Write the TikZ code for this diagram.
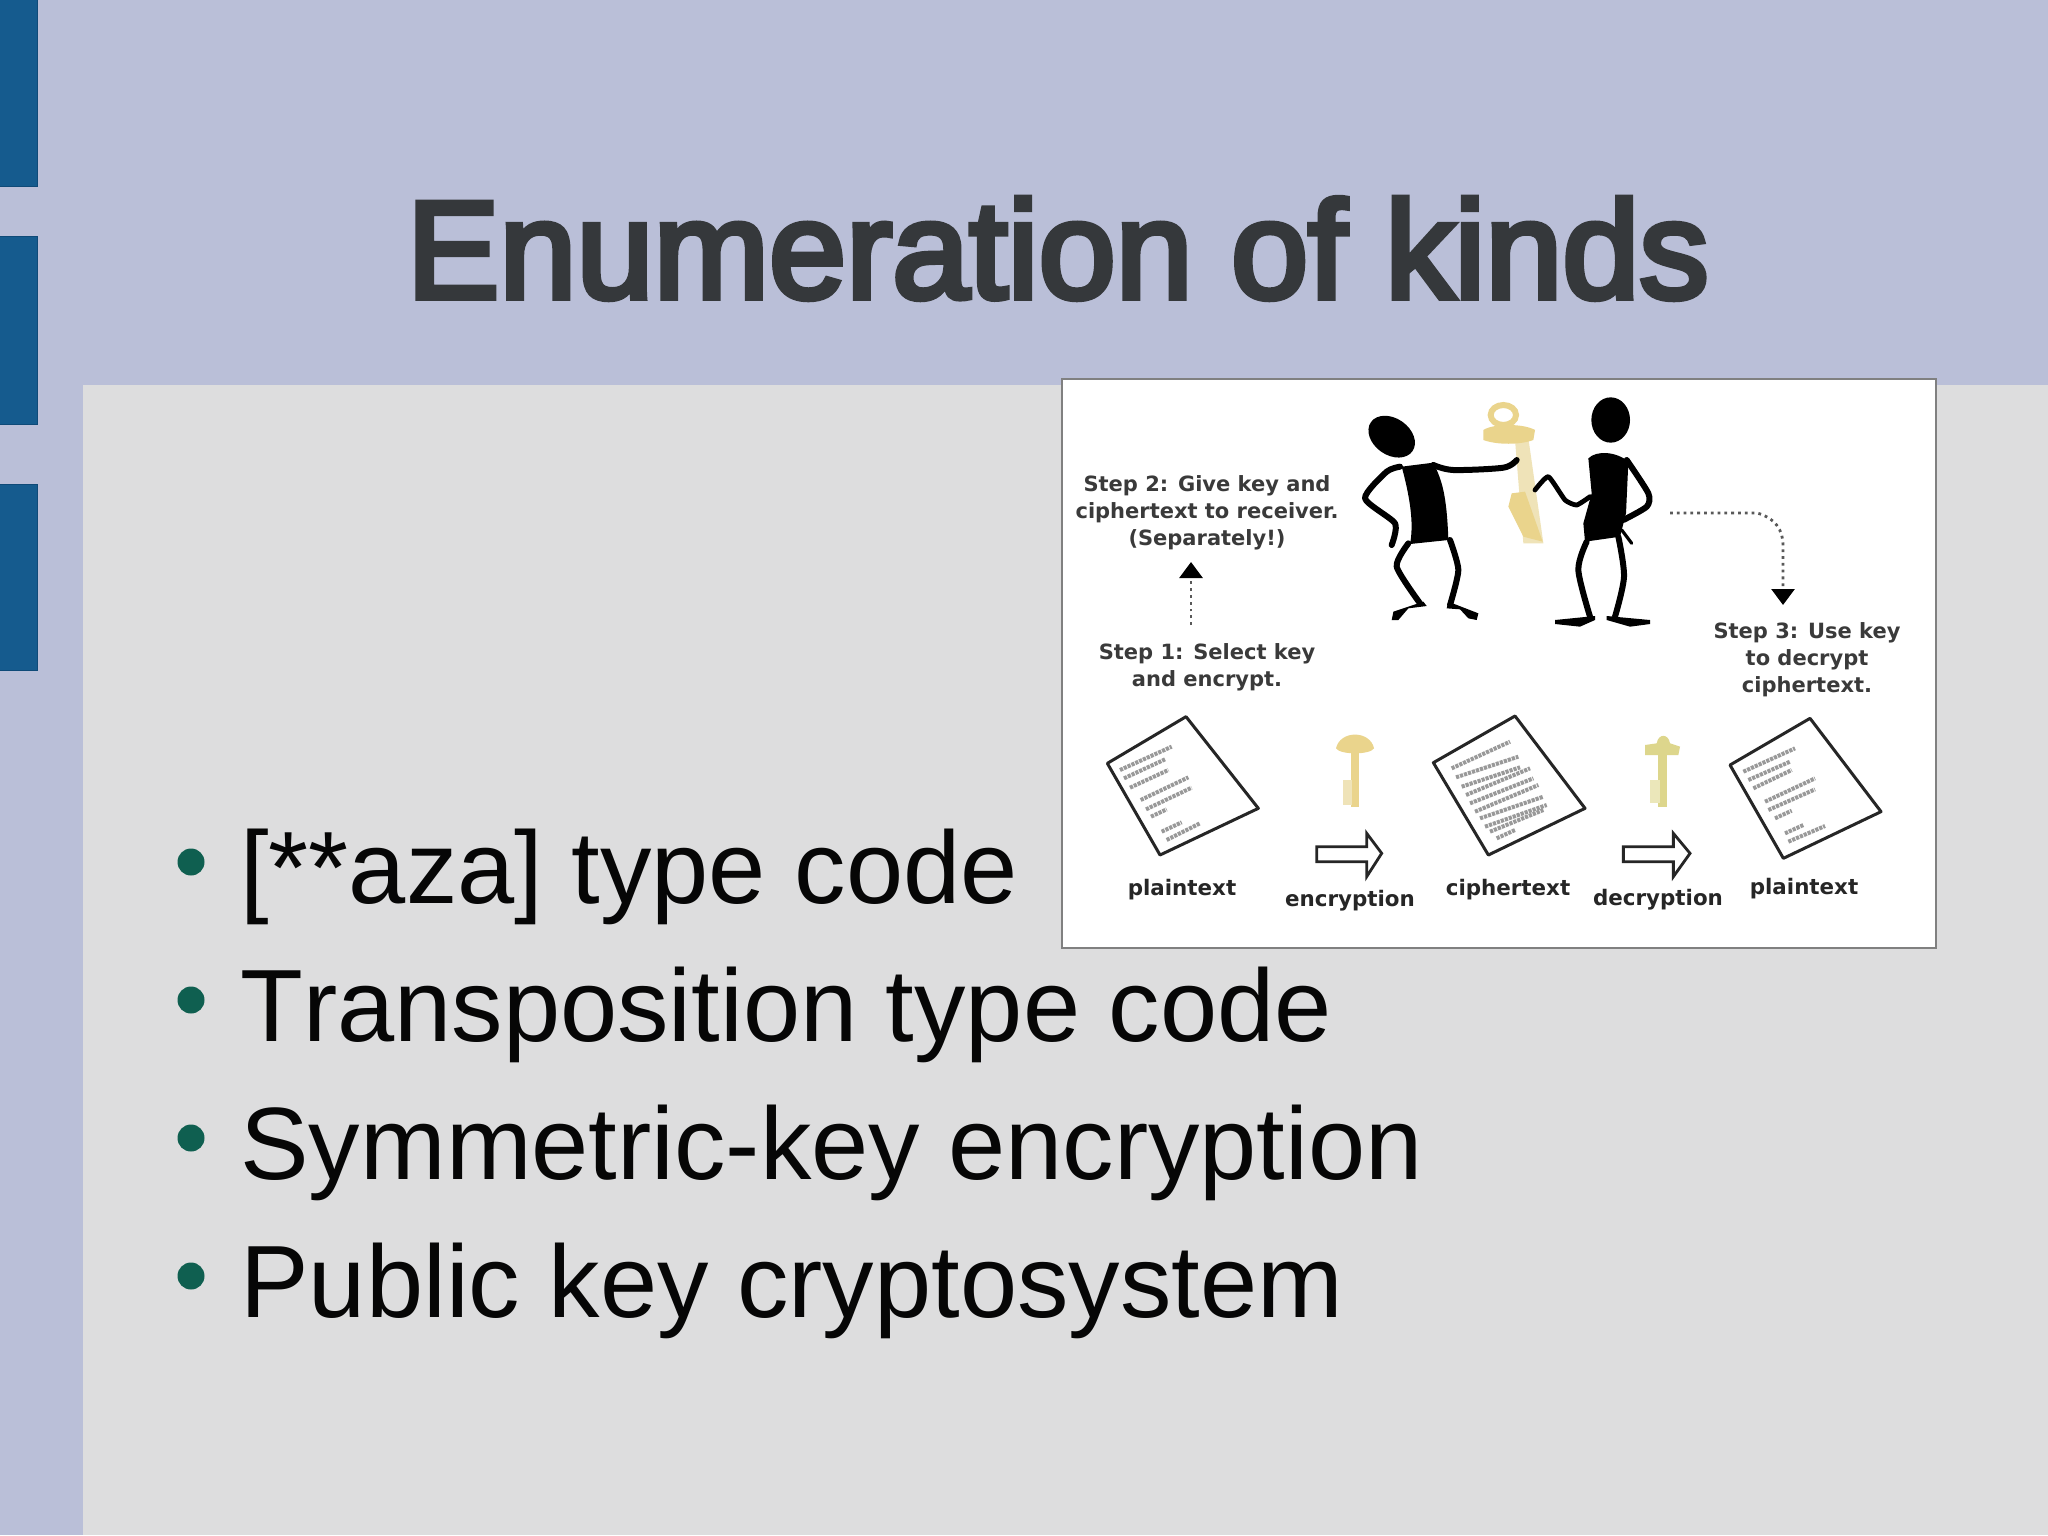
\documentclass[tikz,border=0pt]{standalone}
\usepackage{fontspec}
\setmainfont{Liberation Sans}
\newfontfamily\figfont{DejaVu Sans}
\newfontfamily\titlefont[FakeBold=4.2]{Liberation Sans}
\usetikzlibrary{arrows.meta}
\definecolor{bgtop}{HTML}{BABFD8}
\definecolor{bgpanel}{HTML}{DDDDDE}
\definecolor{barblue}{HTML}{155B8E}
\definecolor{baredge}{HTML}{0F4A78}
\definecolor{titlecol}{HTML}{35383B}
\definecolor{bodycol}{HTML}{060606}
\definecolor{dotcol}{HTML}{0F5F50}
\definecolor{keygold}{HTML}{EAD48C}
\definecolor{keypale}{HTML}{EFE3B8}
\definecolor{keyolive}{HTML}{DDD68C}
\definecolor{figtxt}{HTML}{3A3A3A}
\tikzset{
  bar/.style={fill=barblue,draw=baredge,line width=0.5pt},
  bodytext/.style={anchor=base west,inner sep=0pt,text=bodycol,font=\fontsize{51.4}{60}\selectfont},
  bulletdot/.style={circle,fill=dotcol,inner sep=0pt,minimum size=13.5pt},
  steptext/.style={align=center,inner sep=0pt,text=figtxt,font=\figfont\bfseries\fontsize{10.5}{13.4}\selectfont},
  labeltext/.style={inner sep=0pt,text=black!85,font=\figfont\bfseries\fontsize{10.7}{11}\selectfont},
  man/.style={line width=3pt,line cap=round,line join=round,draw=black},
  sheet/.style={draw=black!85,line width=1.5pt,fill=white,line join=round},
  writing/.style={draw=black!40,line width=2pt,dash pattern=on 1.6pt off 0.5pt},
  blockarrow/.style={draw=black!85,line width=1.4pt,fill=white,line join=miter},
  flowarrow/.style={draw=black!65,line width=1.4pt,dotted,-{Triangle[width=11.5pt,length=8pt,fill=black,color=black]}},
}
\begin{document}
\begin{tikzpicture}[x=0.5pt,y=-0.5pt]
\useasboundingbox (0,0) rectangle (2048,1535);
\fill[bgtop] (0,0) rectangle (2048,1535);
\fill[bgpanel] (83,385) rectangle (2048,1535);
\draw[bar] (-2,-2) rectangle (37,187);
\draw[bar] (-2,237) rectangle (37,424);
\draw[bar] (-2,484) rectangle (37,670);
\node[anchor=base,inner sep=0pt,text=titlecol,font=\titlefont\fontsize{69.3}{76}\selectfont] (title) at (1058,298) {Enumeration of kinds};
\node[bulletdot] (b1) at (191,862) {};
\node[bulletdot] (b2) at (191,1000) {};
\node[bulletdot] (b3) at (191,1138) {};
\node[bulletdot] (b4) at (191,1276) {};
\node[bodytext] (t1) at (240,903) {[**aza] type code};
\node[bodytext] (t2) at (240,1041) {\addfontfeature{Kerning=Off}Transposition type code};
\node[bodytext] (t3) at (240,1179) {Symmetric-key encryption};
\node[bodytext] (t4) at (240,1317) {Public key cryptosystem};
% picture
\draw[fill=white,draw=black!50,line width=1.2pt] (1062,379) rectangle (1936,948);
\node[steptext] (step2) at (1207,513) {Step 2: Give key and\\ciphertext to receiver.\\(Separately!)};
\node[steptext] (step1) at (1207,667) {Step 1: Select key\\and encrypt.};
\node[steptext] (step3) at (1807,660) {Step 3: Use key\\to decrypt\\ciphertext.};
\node[labeltext] (pt1) at (1182,890) {plaintext};
\node[labeltext] (enc) at (1350,901) {encryption};
\node[labeltext] (ct) at (1508,890) {ciphertext};
\node[labeltext] (dec) at (1658,900) {decryption};
\node[labeltext] (pt2) at (1804,889) {plaintext};
\coordinate (upstart) at (1191,625);
\coordinate (upend) at (1191,562);
\draw[flowarrow] (upstart) -- (upend);
\coordinate (flowstart) at (1670,513);
\coordinate (flowend) at (1783,605);
\draw[flowarrow] (flowstart) -- (1757,513) .. controls (1775,518) and (1783,530) .. (1783,545) -- (flowend);
% top key, first crop coordinates
\begin{scope}[shift={(1050,370)},x=0.16667pt,y=-0.16667pt]
  \fill[keypale] (1395,210) -- (1435,205) -- (1480,520) -- (1420,520) -- cycle;
  \fill[keygold] (1385,370) -- (1425,365) -- (1478,515) -- (1420,500) -- (1375,410) -- cycle;
  \fill[keygold] (1300,180) .. controls (1330,160) and (1420,160) .. (1455,180) -- (1450,210) .. controls (1410,225) and (1340,225) .. (1300,210) -- cycle;
  \draw[keygold,line width=3pt] (1360,135) ellipse (38 and 30);
  % left man
  \fill[black,rotate around={-35:(1025,200)}] (1025,200) ellipse (76 and 55);
  \fill[black] (1055,290) -- (1150,278) .. controls (1175,330) and (1190,370) .. (1195,510) -- (1080,522) .. controls (1090,470) and (1085,400) .. (1055,290) -- cycle;
  \draw[man] plot[smooth,tension=0.5] coordinates {(1150,285) (1210,300) (1360,293) (1400,270)};
  \draw[man] plot[smooth,tension=0.4] coordinates {(1050,290) (1010,305) (945,385) (1035,460) (1025,525)};
  \draw[man] plot[smooth,tension=0.4] coordinates {(1075,520) (1040,590) (1110,700)};
  \draw[man] plot[smooth,tension=0.4] coordinates {(1200,510) (1225,600) (1200,705)};
  \fill[black] (1120,695) -- (1030,725) -- (1025,750) -- (1045,750) -- (1075,715) -- (1130,708) -- cycle;
  \fill[black] (1195,695) -- (1285,730) -- (1280,750) -- (1255,745) -- (1230,718) -- (1190,715) -- cycle;
\end{scope}
% right man, second crop coordinates
\begin{scope}[shift={(1500,370)},x=0.16667pt,y=-0.16667pt]
  \fill[black] (332,150) ellipse (58 and 68);
  \fill[black] (265,265) .. controls (290,240) and (350,245) .. (385,275) -- (378,430) -- (360,500) -- (255,515) -- (250,460) -- (275,370) -- cycle;
  \draw[man] plot[smooth,tension=0.4] coordinates {(380,270) (445,370) (440,410) (370,450)};
  \draw[man,line width=1.6pt] (365,480) -- (395,520);
  \draw[man,line width=2.4pt] plot[smooth,tension=0.3] coordinates {(270,380) (230,405) (195,390) (145,320) (105,360)};
  \draw[man] plot[smooth,tension=0.5] coordinates {(260,515) (235,600) (270,740)};
  \draw[man] plot[smooth,tension=0.5] coordinates {(355,500) (372,620) (345,740)};
  \fill[black] (285,738) -- (165,750) -- (165,762) -- (240,770) -- (285,750) -- cycle;
  \fill[black] (320,738) -- (450,750) -- (450,762) -- (390,770) -- (320,750) -- cycle;
\end{scope}
% lower row, third crop coordinates
\begin{scope}[shift={(1050,690)},x=0.16667pt,y=-0.16667pt]
  \draw[sheet] (408,80) -- (625,355) -- (330,495) -- (172,220) -- cycle;
  \draw[writing] (210,240) -- (365,170);
  \draw[writing] (222,265) -- (345,208);
  \draw[writing] (240,293) -- (355,240);
  \draw[writing] (272,330) -- (415,262);
  \draw[writing] (288,358) -- (425,293);
  \draw[writing] (303,380) -- (350,358);
  \draw[writing] (335,425) -- (395,397);
  \draw[writing] (350,450) -- (450,400);
  \fill[keygold] (858,175) .. controls (870,120) and (960,120) .. (972,175) .. controls (960,195) and (870,195) .. (858,175) -- cycle;
  \fill[keygold] (902,190) rectangle (928,350);
  \fill[keypale] (880,270) rectangle (905,345);
  \draw[blockarrow] (800,470) -- (950,470) -- (950,430) -- (995,490) -- (950,560) -- (950,515) -- (800,515) -- cycle;
  \draw[sheet] (1395,78) -- (1605,355) -- (1315,495) -- (1150,218) -- cycle;
  \foreach \sx/\sy/\ex/\ey in {1205/235/1380/155,1218/262/1405/200,1235/290/1410/232,1248/315/1440/235,1260/340/1450/265,1275/365/1465/285,1290/385/1480/320,1305/410/1490/345,1320/425/1480/360,1340/445/1395/420}
    \draw[writing] (\sx,\sy) -- (\ex,\ey);
\end{scope}
\begin{scope}[shift={(1500,690)},x=0.16667pt,y=-0.16667pt]
  \fill[keyolive] (435,165) -- (470,160) .. controls (475,130) and (505,130) .. (510,160) -- (540,170) -- (535,195) -- (435,195) -- cycle;
  \fill[keyolive] (475,190) rectangle (500,350);
  \fill[keyolive!60!white] (450,270) rectangle (480,340);
  \draw[blockarrow] (370,470) -- (520,470) -- (520,430) -- (570,490) -- (520,560) -- (520,515) -- (370,515) -- cycle;
  \draw[sheet] (930,85) -- (1143,365) -- (850,505) -- (690,225) -- cycle;
  \draw[writing] (730,245) -- (885,175);
  \draw[writing] (745,270) -- (870,215);
  \draw[writing] (760,295) -- (875,240);
  \draw[writing] (795,335) -- (945,265);
  \draw[writing] (805,360) -- (945,298);
  \draw[writing] (825,385) -- (875,362);
  \draw[writing] (855,430) -- (910,405);
  \draw[writing] (865,455) -- (975,408);
\end{scope}
\end{tikzpicture}
\end{document}
